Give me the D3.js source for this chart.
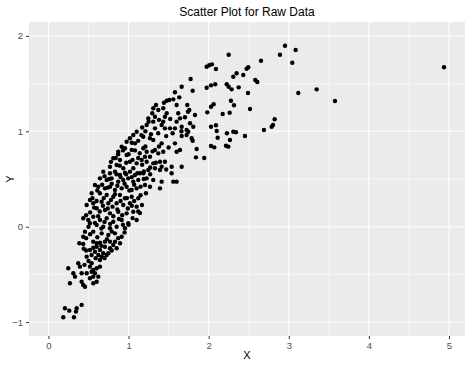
<!DOCTYPE html>
<html>
<head>
<meta charset="utf-8">
<script src="https://cdnjs.cloudflare.com/ajax/libs/d3/7.8.5/d3.min.js"></script>
<style>
body{margin:0;background:#fff;}
text{font-family:"Liberation Sans",Arial,sans-serif;}
</style>
</head>
<body>
<div id="chart"></div>
<script>
var chartTitle = "Scatter Plot for Raw Data";
var xTicks = [0, 1, 2, 3, 4, 5];
var yTicks = [-1, 0, 1, 2];
var xMinor = [0.5, 1.5, 2.5, 3.5, 4.5];
var yMinor = [-0.5, 0.5, 1.5];

// lower tail
var tailPts = [[0.185,-0.95],[0.318,-0.95],[0.206,-0.855],[0.26,-0.88],[0.343,-0.89],[0.352,-0.855],[0.414,-0.82]];
// around y = -0.5
var lowPts = [[0.247,-0.436],[0.372,-0.384],[0.393,-0.419],[0.31,-0.488],[0.331,-0.524],[0.268,-0.593],[0.414,-0.488],
  [0.477,-0.488],[0.518,-0.419],[0.539,-0.472],[0.559,-0.454],[0.581,-0.488],[0.602,-0.436],[0.643,-0.419],
  [0.559,-0.524],[0.518,-0.541],[0.414,-0.577],[0.434,-0.611],[0.456,-0.629],[0.559,-0.593],[0.602,-0.577],
  [0.622,-0.524],[0.539,-0.384],[0.643,-0.349]];
// around y = -0.2
var midLowPts = [[0.385,-0.174],[0.434,-0.181],[0.559,-0.157],[0.602,-0.174],[0.643,-0.168],[0.705,-0.157],[0.768,-0.157],
  [0.83,-0.157],[0.893,-0.174],[0.518,-0.244],[0.581,-0.262],[0.643,-0.244],[0.684,-0.279],[0.747,-0.279],
  [0.622,-0.297],[0.664,-0.314],[0.727,-0.297],[0.768,-0.226],[0.705,-0.21],[0.809,-0.192],[0.539,-0.297],
  [0.477,-0.314],[0.602,-0.21],[0.851,-0.226],
  [0.45,-0.4],[0.5,-0.36],[0.59,-0.33],[0.7,-0.33],[0.47,-0.25],[0.56,-0.22],[0.66,-0.2],[0.79,-0.25],[0.44,-0.23]];
// dense body, y 0 to 0.6
var bodyPts = [[0.684,0.577],[0.768,0.56],[0.83,0.577],[0.893,0.542],[0.955,0.566],[1.017,0.577],[1.08,0.542],[1.142,0.56],
  [0.643,0.507],[0.727,0.49],[0.789,0.507],[0.871,0.472],[0.934,0.49],[0.996,0.507],[1.059,0.472],[1.121,0.49],
  [0.58,0.437],[0.622,0.419],[0.705,0.402],[0.768,0.419],[0.83,0.385],[0.914,0.402],[0.976,0.419],[1.039,0.385],[1.101,0.402],
  [0.539,0.35],[0.643,0.35],[0.727,0.332],[0.809,0.314],[0.893,0.332],[0.955,0.298],[1.039,0.314],[1.121,0.298],
  [0.518,0.28],[0.559,0.245],[0.664,0.262],[0.747,0.245],[0.851,0.245],[0.934,0.227],[1.017,0.245],[1.101,0.21],
  [0.477,0.227],[0.602,0.193],[0.705,0.175],[0.768,0.14],[0.871,0.157],[0.976,0.14],[1.059,0.157],
  [0.434,0.088],[0.497,0.07],[0.559,0.105],[0.643,0.07],[0.727,0.088],[0.809,0.052],[0.914,0.07],[0.996,0.036],[1.101,0.07],
  [0.518,0.036],[0.602,0.018],[0.684,0],[0.768,-0.017],[0.851,0],[0.955,-0.017],
  [0.456,-0.052],[0.559,-0.052],[0.664,-0.07],[0.747,-0.087],[0.83,-0.07],[0.914,-0.105],[0.434,-0.105],
  [1.142,0.143],[1.217,0.35],[1.167,0.227]];
// extra body points between the ones above
var fillPts = [[0.47,-0.12],[0.52,-0.08],[0.61,-0.11],[0.66,-0.02],[0.73,-0.13],[0.79,-0.05],[0.87,-0.12],[0.95,-0.06],
  [1.0,0.02],[0.5,0.0],[0.58,0.04],[0.7,0.05],[0.77,0.03],[0.88,0.08],[0.93,0.02],[1.05,0.09],[0.47,0.12],[0.62,0.11],[0.81,0.11],
  [0.52,0.15],[0.57,0.2],[0.64,0.16],[0.68,0.22],[0.74,0.19],[0.8,0.21],[0.86,0.18],[0.92,0.12],[0.99,0.19],[1.04,0.22],
  [1.12,0.16],[0.55,0.3],[0.6,0.27],[0.69,0.3],[0.78,0.28],[0.83,0.34],[0.9,0.27],[0.98,0.3],[1.07,0.27],[1.15,0.33],
  [0.61,0.38],[0.67,0.44],[0.74,0.41],[0.79,0.45],[0.86,0.43],[0.95,0.45],[1.01,0.38],[1.07,0.44],[1.15,0.42],[1.19,0.5],
  [0.7,0.53],[0.76,0.5],[0.85,0.55],[0.9,0.52],[0.97,0.55],[1.04,0.52],[1.11,0.56],[1.19,0.58],[1.27,0.55],
  [0.78,0.68],[0.84,0.72],[0.89,0.64],[0.97,0.67],[1.05,0.7],[1.12,0.72],[1.17,0.65],[1.27,0.62],[1.34,0.67],[1.47,0.6],
  [0.87,0.76],[0.93,0.8],[1.0,0.76],[1.08,0.8],[1.14,0.77],[1.21,0.84],[1.3,0.79],[1.38,0.84],[1.5,0.83],
  [1.04,0.88],[1.12,0.9],[1.16,0.96],[1.21,1.0],[1.28,0.97],[1.37,0.98],[1.47,0.95],[1.55,0.98],[1.17,1.04],
  [1.25,1.1],[1.38,1.12],[1.52,1.13],[1.66,1.0]];
// upper body, y 0.6 to 1.2
var upperPts = [[1.101,0.996],[1.059,0.961],[1.017,0.927],[0.976,0.891],[1.08,0.874],[0.914,0.839],[0.955,0.822],
  [1.039,0.805],[0.871,0.786],[0.976,0.752],[0.809,0.717],[0.893,0.699],[1.017,0.681],[1.101,0.664],[0.768,0.629],
  [0.851,0.647],[0.934,0.612],[1.059,0.612],[1.246,1.136],[1.33,1.153],[1.454,1.153],
  [1.579,1.409],[1.633,1.356],[1.558,1.335],[1.508,1.328],[1.476,1.321],[1.442,1.3],[1.342,1.276],[1.308,1.241],
  [1.371,1.223],[1.296,1.189],[1.433,1.241],[1.6,1.276],[1.476,1.189],[1.62,1.189],
  [1.308,1.101],[1.226,1.066],[1.33,1.031],[1.413,1.066],[1.433,1.101],[1.454,1.031],[1.6,1.101],[1.517,1.031],
  [1.579,1.031],[1.184,0.943],[1.267,0.927],[1.308,0.909],[1.413,0.874],[1.579,0.874],[1.184,0.822],[1.226,0.786],
  [1.205,0.734],[1.267,0.734],[1.33,0.804],[1.371,0.769],[1.433,0.786],[1.164,0.699],[1.226,0.681],[1.308,0.664],
  [1.392,0.681],[1.454,0.681],[1.6,0.786],[1.246,0.594],[1.33,0.612],[1.392,0.594],[1.413,0.629],[1.538,0.629],
  [1.538,0.56],[1.184,0.56],[1.226,0.507],[1.308,0.49],[1.413,0.472],[1.205,0.437],[1.267,0.419],[1.558,0.472],
  [1.6,0.472],[1.392,0.402],[1.663,0.629]];
// right side, x above 1.6
var rightPts = [[2.953,1.897],[3.086,1.852],[2.89,1.803],[3.044,1.719],[2.25,1.803],[2.653,1.74],[1.975,1.677],
  [2.007,1.692],[2.041,1.702],[2.091,1.653],[2.494,1.671],[2.474,1.656],[2.582,1.538],[2.607,1.517],[2.307,1.572],
  [2.349,1.608],[2.432,1.59],[1.775,1.548],[1.663,1.467],[1.8,1.426],[1.975,1.457],[2.029,1.482],[2.082,1.493],
  [2.225,1.493],[2.25,1.467],[2.287,1.44],[2.375,1.461],[2.491,1.401],[3.119,1.401],[3.348,1.44],[3.577,1.318],
  [2.278,1.321],[2.316,1.273],[2.062,1.283],[2.029,1.258],[1.983,1.199],[2.175,1.181],[2.262,1.195],[2.516,1.234],
  [1.733,1.276],[1.758,1.223],[1.742,1.205],[1.704,1.147],[1.642,1.136],[1.829,1.171],[1.767,1.084],[1.663,1.048],
  [1.725,1.014],[1.745,0.996],[1.808,1.048],[1.663,0.951],[1.725,0.961],[1.788,0.927],[1.8,0.901],[2.029,1.048],
  [2.091,1.063],[2.1,1.003],[2.112,0.933],[2.228,0.979],[2.307,0.996],[2.341,0.99],[2.266,0.909],[2.453,0.951],
  [2.029,0.846],[2.07,0.832],[2.216,0.849],[2.245,0.839],[1.85,0.814],[1.841,0.727],[1.945,0.72],[2.69,1.014],
  [2.787,1.048],[2.803,1.066],[2.824,1.126],[1.642,0.804],[4.938,1.671]];

var  Scatter = (function(){
    function Scatter(target){
        this.target = target;
        this.width = 474;
        this.height = 366;
        this.margin = {top: 22, right: 9, bottom: 30, left: 29};
        this.data = [].concat(tailPts, lowPts, midLowPts, bodyPts, fillPts, upperPts, rightPts);
        this.init();
    }
    return Scatter;
})();

var sc = Scatter.prototype;

sc.init = function(){
    this.svg = d3.select(this.target)
    .append("svg")
    .attr("width", this.width)
    .attr("height", this.height);
    this.pw = this.width - this.margin.left - this.margin.right;
    this.ph = this.height - this.margin.top - this.margin.bottom;
    this.x = d3.scaleLinear().domain([-0.243, 5.2]).range([0, this.pw]);
    this.y = d3.scaleLinear().domain([-1.146, 2.146]).range([this.ph, 0]);
    this.g = this.svg.append("g")
    .attr("transform", "translate(" + this.margin.left + "," + this.margin.top + ")");
    this.setPanel();
    this.setAxes();
    this.setPoints();
    this.setLabels();
}

sc.setPanel = function(){
    var x = this.x, y = this.y, pw = this.pw, ph = this.ph;
    this.g.append("rect")
    .attr("width", pw).attr("height", ph)
    .attr("fill", "#ebebeb");
    this.g.selectAll(".xminor").data(xMinor).enter().append("line")
    .attr("x1", function(d){ return x(d); }).attr("x2", function(d){ return x(d); })
    .attr("y1", 0).attr("y2", ph)
    .attr("stroke", "#fff").attr("stroke-width", 0.55);
    this.g.selectAll(".yminor").data(yMinor).enter().append("line")
    .attr("y1", function(d){ return y(d); }).attr("y2", function(d){ return y(d); })
    .attr("x1", 0).attr("x2", pw)
    .attr("stroke", "#fff").attr("stroke-width", 0.55);
    this.g.selectAll(".xmajor").data(xTicks).enter().append("line")
    .attr("x1", function(d){ return x(d); }).attr("x2", function(d){ return x(d); })
    .attr("y1", 0).attr("y2", ph)
    .attr("stroke", "#fff").attr("stroke-width", 1.1);
    this.g.selectAll(".ymajor").data(yTicks).enter().append("line")
    .attr("y1", function(d){ return y(d); }).attr("y2", function(d){ return y(d); })
    .attr("x1", 0).attr("x2", pw)
    .attr("stroke", "#fff").attr("stroke-width", 1.1);
}

sc.setAxes = function(){
    var xa = this.g.append("g")
    .attr("transform", "translate(0," + this.ph + ")")
    .call(d3.axisBottom(this.x).tickValues(xTicks).tickSize(3).tickPadding(3).tickFormat(d3.format("d")));
    var ya = this.g.append("g")
    .call(d3.axisLeft(this.y).tickValues(yTicks).tickSize(3).tickPadding(3).tickFormat(d3.format("d")));
    [xa, ya].forEach(function(a){
        a.select(".domain").remove();
        a.selectAll(".tick line").attr("stroke", "#333").attr("stroke-width", 1);
        a.selectAll(".tick text").attr("fill", "#4d4d4d").style("font-size", "9.5px");
    });
}

sc.setPoints = function(){
    var x = this.x, y = this.y;
    this.g.append("g").selectAll("circle").data(this.data).enter().append("circle")
    .attr("cx", function(d){ return x(d[0]); })
    .attr("cy", function(d){ return y(d[1]); })
    .attr("r", 2.2)
    .attr("fill", "#000");
}

sc.setLabels = function(){
    var cx = this.margin.left + this.pw / 2;
    this.svg.append("text")
    .attr("x", cx).attr("y", 15.5)
    .attr("text-anchor", "middle")
    .style("font-size", "12px")
    .text(chartTitle);
    this.svg.append("text")
    .attr("x", cx).attr("y", 358.5)
    .attr("text-anchor", "middle")
    .style("font-size", "11px")
    .text("X");
    this.svg.append("text")
    .attr("transform", "translate(13.5," + (this.margin.top + this.ph / 2) + ") rotate(-90)")
    .attr("text-anchor", "middle")
    .style("font-size", "11px")
    .text("Y");
}

new Scatter("#chart");
</script>
</body>
</html>
